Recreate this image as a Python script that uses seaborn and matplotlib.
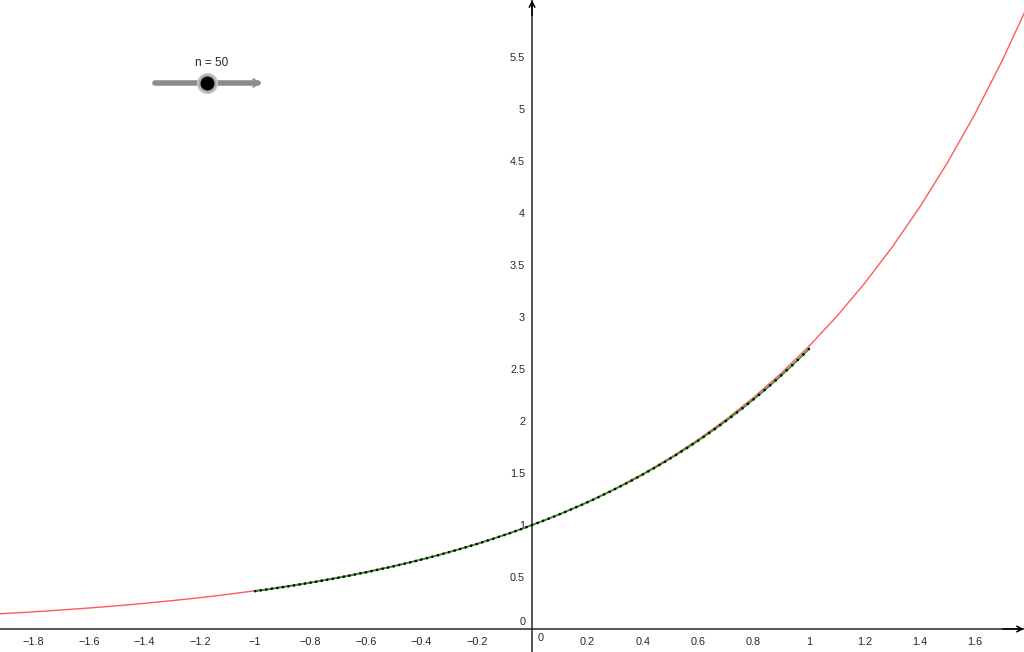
import numpy as np
import pandas as pd
import matplotlib.pyplot as plt
import seaborn as sns
from matplotlib.lines import Line2D

# ---- Data ----
# red curve, sampled every 0.1 (read off the picture)
curve_x = [-1.95, -1.9, -1.8, -1.7, -1.6, -1.5, -1.4, -1.3, -1.2, -1.1, -1.0,
           -0.9, -0.8, -0.7, -0.6, -0.5, -0.4, -0.3, -0.2, -0.1, 0.0,
           0.1, 0.2, 0.3, 0.4, 0.5, 0.6, 0.7, 0.8, 0.9, 1.0,
           1.1, 1.2, 1.3, 1.4, 1.5, 1.6, 1.7, 1.8]
curve_y = [0.142, 0.150, 0.165, 0.183, 0.202, 0.223, 0.247, 0.273, 0.301, 0.333, 0.368,
           0.407, 0.449, 0.497, 0.549, 0.607, 0.670, 0.741, 0.819, 0.905, 1.000,
           1.105, 1.221, 1.350, 1.492, 1.649, 1.822, 2.014, 2.226, 2.460, 2.718,
           3.004, 3.320, 3.669, 4.055, 4.482, 4.953, 5.474, 6.050]

# black points joined by green segments, step 0.02 from -1 to 1
pts_y_neg = [0.364, 0.372, 0.379, 0.387, 0.395, 0.403, 0.411, 0.419, 0.428, 0.437,
             0.446, 0.455, 0.464, 0.474, 0.483, 0.493, 0.503, 0.513, 0.524, 0.535,
             0.545, 0.557, 0.568, 0.580, 0.591, 0.603, 0.616, 0.628, 0.641, 0.654,
             0.668, 0.681, 0.695, 0.709, 0.724, 0.739, 0.754, 0.769, 0.785, 0.801,
             0.817, 0.834, 0.851, 0.868, 0.886, 0.904, 0.922, 0.941, 0.960, 0.980]
pts_y_pos = [1.000, 1.020, 1.040, 1.061, 1.082, 1.104, 1.126, 1.149, 1.172, 1.195,
             1.219, 1.243, 1.268, 1.294, 1.319, 1.346, 1.373, 1.400, 1.428, 1.457,
             1.486, 1.516, 1.546, 1.577, 1.608, 1.641, 1.673, 1.707, 1.741, 1.776,
             1.811, 1.848, 1.885, 1.922, 1.961, 2.000, 2.040, 2.081, 2.122, 2.165,
             2.208, 2.252, 2.297, 2.343, 2.390, 2.438, 2.487, 2.536, 2.587, 2.639,
             2.692]
pts_y = pts_y_neg + pts_y_pos
pts_x = np.round(np.linspace(-1, 1, len(pts_y)), 2)

x_ticks = [-1.8, -1.6, -1.4, -1.2, -1, -0.8, -0.6, -0.4, -0.2,
           0.2, 0.4, 0.6, 0.8, 1, 1.2, 1.4, 1.6]
y_ticks = [0.5, 1, 1.5, 2, 2.5, 3, 3.5, 4, 4.5, 5, 5.5]
slider_label = "n = 50"

curve = pd.DataFrame({"x": curve_x, "y": curve_y})
pts = pd.DataFrame({"x": pts_x, "y": pts_y})

# ---- Style ----
sns.set_style("white")
plt.rcParams["font.family"] = ["Liberation Sans", "DejaVu Sans"]

fig = plt.figure(figsize=(10.24, 6.52), dpi=100)
ax = fig.add_axes([0, 0, 1, 1])
ax.set_xlim(-1.922, 1.777)
ax.set_ylim(-0.221, 6.048)

sns.lineplot(data=curve, x="x", y="y", ax=ax, color="#ff5a5a", linewidth=1.0,
             sort=False, zorder=2)
sns.lineplot(data=pts, x="x", y="y", ax=ax, color="#2a9a2a", linewidth=1.3,
             sort=False, zorder=3)
sns.scatterplot(data=pts, x="x", y="y", ax=ax, color="black", s=3.5,
                edgecolor="none", zorder=4)

# ---- Axes through origin, GeoGebra style ----
for side in ["top", "right"]:
    ax.spines[side].set_visible(False)
ax.spines["left"].set_position(("data", 0))
ax.spines["bottom"].set_position(("data", 0))
ax.spines["left"].set_linewidth(1.1)
ax.spines["bottom"].set_linewidth(1.1)
ax.set_xticks(x_ticks)
ax.set_yticks(y_ticks)
ax.set_xticklabels([f"{t:g}".replace("-", "\u2212") for t in x_ticks])
ax.set_yticklabels([f"{t:g}" for t in y_ticks])
ax.tick_params(axis="x", direction="inout", length=5, width=1, labelsize=7.8, pad=3)
ax.tick_params(axis="y", direction="out", length=3, width=1, labelsize=7.8, pad=2)
ax.set_xlabel("")
ax.set_ylabel("")

ax.text(-0.025, 0.02, "0", ha="right", va="bottom", fontsize=7.8)
ax.text(0.03, -0.04, "0", ha="center", va="top", fontsize=7.8)

# arrow heads
ax.annotate("", xy=(0, 6.048), xytext=(0, 5.9),
            arrowprops=dict(arrowstyle="->", lw=1.1, color="black",
                            shrinkA=0, shrinkB=0))
ax.annotate("", xy=(1.777, 0), xytext=(1.7, 0),
            arrowprops=dict(arrowstyle="->", lw=1.1, color="black",
                            shrinkA=0, shrinkB=0))

# ---- Slider ----
sy = 1 - 83 / 652
fig.add_artist(Line2D([155 / 1024, 258 / 1024], [sy, sy], color="#8c8c8c",
                      linewidth=4, solid_capstyle="round"))
fig.add_artist(Line2D([253 / 1024, 260 / 1024, 253 / 1024],
                      [sy + 4 / 652, sy, sy - 4 / 652], color="#8c8c8c", linewidth=1.2))
fig.add_artist(Line2D([207 / 1024], [sy], marker="o", markersize=14,
                      markerfacecolor="#a8a8a8", markeredgecolor="#c8c8c8",
                      markeredgewidth=1.2))
fig.add_artist(Line2D([207 / 1024], [sy], marker="o", markersize=9,
                      markerfacecolor="black", markeredgecolor="black"))
fig.text(212 / 1024, 1 - 63 / 652, slider_label, ha="center", va="center", fontsize=8.5)

fig.savefig("out.png", dpi=100)
